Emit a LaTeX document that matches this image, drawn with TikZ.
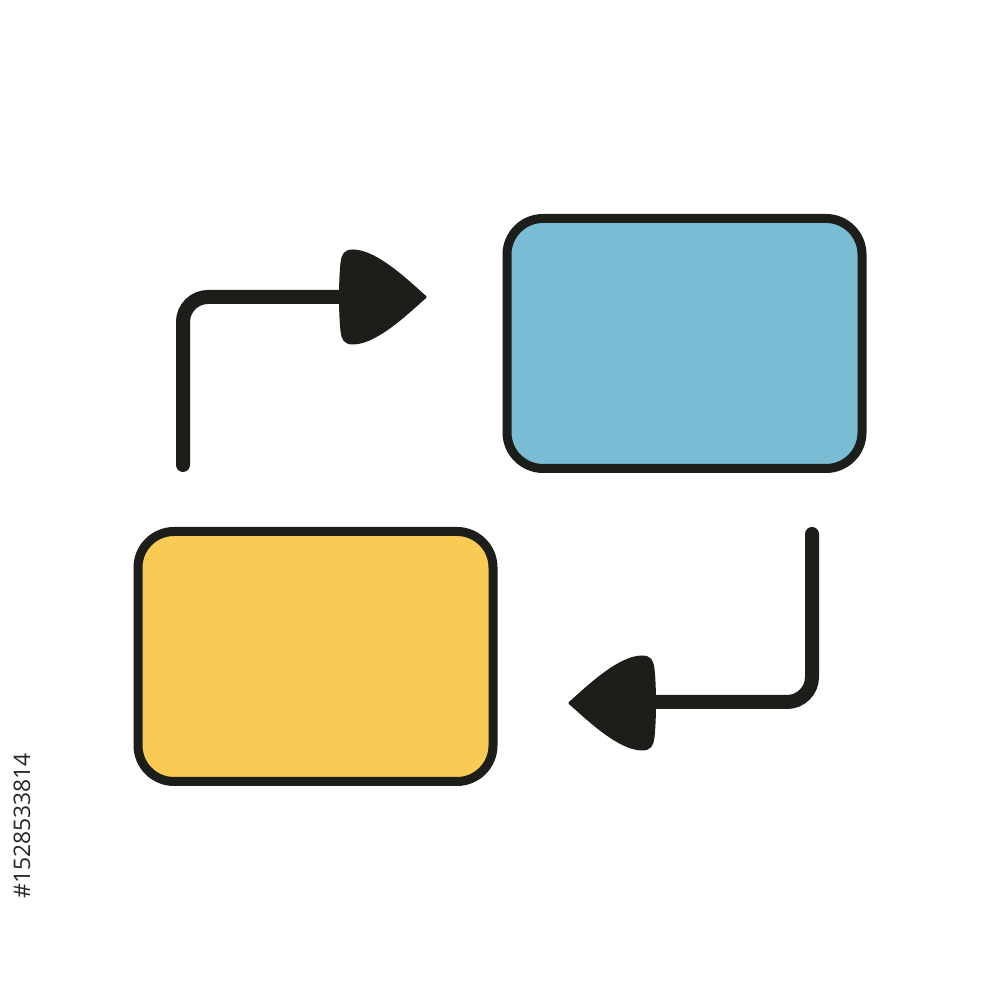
\documentclass[tikz,border=0pt]{standalone}
\usepackage{fontspec}
\newfontfamily\idfont{Open Sans}
\definecolor{inkdark}{HTML}{1C1E19}
\definecolor{boxblue}{HTML}{7BBCD5}
\definecolor{boxyellow}{HTML}{F9CB55}
\tikzset{
    headtip/.pic={
        \filldraw[inkdark,line width=0.03cm,line join=round] (-0.02,0)
        .. controls (-0.16,0.12) and (-0.5,0.46) .. (-0.74,0.46)
        .. controls (-0.82,0.46) and (-0.84,0.42) .. (-0.85,0.34)
        .. controls (-0.87,0.15) and (-0.87,-0.15) .. (-0.85,-0.34)
        .. controls (-0.84,-0.42) and (-0.82,-0.46) .. (-0.74,-0.46)
        .. controls (-0.5,-0.46) and (-0.16,-0.12) .. (-0.02,0) -- cycle;
    }
}
\begin{document}
\begin{tikzpicture}[
            box/.style={rectangle,draw=inkdark,line width=0.09cm,rounded corners=0.36cm,
                minimum width=3.55cm,minimum height=2.5cm,inner sep=0pt},
            flow/.style={draw=inkdark,line width=0.14cm,line cap=round,rounded corners=0.25cm}
        ]
        \useasboundingbox[fill=white] (0,0) rectangle (10,10);
        \node[box,fill=boxblue] (blue) at (6.845,6.565) {};
        \node[box,fill=boxyellow] (yellow) at (3.155,3.435) {};
        % upper arrow
        \coordinate (upstart) at (1.83,5.35);
        \coordinate (upbase) at (3.5,7.03);
        \coordinate (uptip) at (4.27,7.03);
        \draw[flow] (upstart) |- (upbase);
        \pic at (uptip) {headtip};
        % lower arrow
        \coordinate (lowstart) at (8.12,4.66);
        \coordinate (lowbase) at (6.45,2.98);
        \coordinate (lowtip) at (5.68,2.97);
        \draw[flow] (lowstart) |- (lowbase);
        \pic[rotate=180] at (lowtip) {headtip};
        \node[rotate=90,font=\idfont\fontsize{6.5}{7}\selectfont,text=black!85] (stockid) at (0.22,1.74) {\#1528533814};
    \end{tikzpicture}
\end{document}
